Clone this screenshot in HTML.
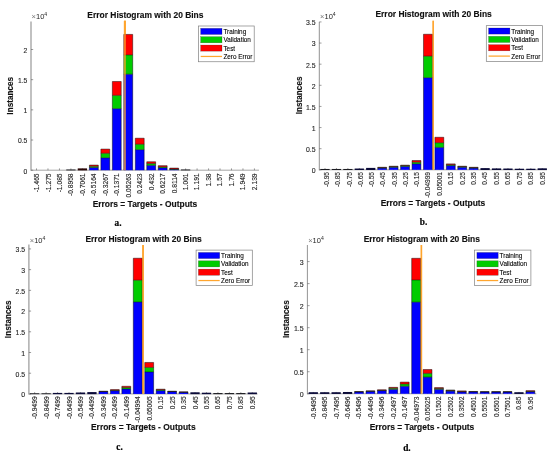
<!DOCTYPE html>
<html lang="en"><head><meta charset="utf-8"><title>Error Histograms</title>
<style>
html,body{margin:0;padding:0;background:#fff;}
body{width:550px;height:455px;overflow:hidden;}
svg{display:block;font-family:"Liberation Sans",Arial,Helvetica,sans-serif;}
</style></head><body>
<svg width="550" height="455" viewBox="0 0 550 455">
<rect width="550" height="455" fill="#fff"/>
<g id="panel-a">
<line x1="124.9" y1="20.7" x2="124.9" y2="170.2" stroke="#ffa52e" stroke-width="2.0"/>
<path d="M31 170.2H259" fill="none" stroke="#a6a6a6" stroke-width="1.0"/>
<path d="M31 21.5V170.7" fill="none" stroke="#a0a0a0" stroke-width="1.3"/>
<path d="M36.5 170.2v-1.8M47.97 170.2v-1.8M59.44 170.2v-1.8M70.91 170.2v-1.8M82.38 170.2v-1.8M93.85 170.2v-1.8M105.32 170.2v-1.8M116.79 170.2v-1.8M128.26 170.2v-1.8M139.73 170.2v-1.8M151.2 170.2v-1.8M162.67 170.2v-1.8M174.14 170.2v-1.8M185.61 170.2v-1.8M197.08 170.2v-1.8M208.55 170.2v-1.8M220.02 170.2v-1.8M231.49 170.2v-1.8M242.96 170.2v-1.8M254.43 170.2v-1.8M31 170.2h2.2M31 140.02h2.2M31 109.85h2.2M31 79.67h2.2M31 49.5h2.2" fill="none" stroke="#5a5a5a" stroke-width="0.6"/>
<rect x="66.27" y="169.48" width="9.29" height="0.92" fill="#1c1c22"/>
<rect x="77.74" y="168.39" width="9.29" height="2.01" fill="#2a0606"/>
<rect x="89.41" y="167.48" width="8.89" height="2.72" fill="#0000ff"/>
<rect x="89.41" y="166.28" width="8.89" height="1.21" fill="#00cc00"/>
<rect x="89.41" y="165.07" width="8.89" height="1.21" fill="#ff0000"/>
<path d="M89.41 170.2V165.07H98.29V170.2M89.41 167.48H98.29M89.41 166.28H98.29" fill="none" stroke="#000" stroke-opacity="0.9" stroke-width="0.5"/>
<rect x="100.88" y="157.83" width="8.89" height="12.37" fill="#0000ff"/>
<rect x="100.88" y="153.3" width="8.89" height="4.53" fill="#00cc00"/>
<rect x="100.88" y="149.08" width="8.89" height="4.22" fill="#ff0000"/>
<path d="M100.88 170.2V149.08H109.76V170.2M100.88 157.83H109.76M100.88 153.3H109.76" fill="none" stroke="#000" stroke-opacity="0.9" stroke-width="0.5"/>
<rect x="112.35" y="108.64" width="8.89" height="61.56" fill="#0000ff"/>
<rect x="112.35" y="95.37" width="8.89" height="13.28" fill="#00cc00"/>
<rect x="112.35" y="81.49" width="8.89" height="13.88" fill="#ff0000"/>
<path d="M112.35 170.2V81.49H121.23V170.2M112.35 108.64H121.23M112.35 95.37H121.23" fill="none" stroke="#000" stroke-opacity="0.9" stroke-width="0.5"/>
<rect x="123.82" y="74.24" width="8.89" height="95.96" fill="#0000ff"/>
<rect x="123.82" y="54.93" width="8.89" height="19.31" fill="#00cc00"/>
<rect x="123.82" y="34.41" width="8.89" height="20.52" fill="#ff0000"/>
<path d="M123.82 170.2V34.41H132.7V170.2M123.82 74.24H132.7M123.82 54.93H132.7" fill="none" stroke="#000" stroke-opacity="0.9" stroke-width="0.5"/>
<rect x="135.29" y="149.68" width="8.89" height="20.52" fill="#0000ff"/>
<rect x="135.29" y="144.25" width="8.89" height="5.43" fill="#00cc00"/>
<rect x="135.29" y="138.21" width="8.89" height="6.03" fill="#ff0000"/>
<path d="M135.29 170.2V138.21H144.17V170.2M135.29 149.68H144.17M135.29 144.25H144.17" fill="none" stroke="#000" stroke-opacity="0.9" stroke-width="0.5"/>
<rect x="146.76" y="165.37" width="8.89" height="4.83" fill="#0000ff"/>
<rect x="146.76" y="163.56" width="8.89" height="1.81" fill="#00cc00"/>
<rect x="146.76" y="161.75" width="8.89" height="1.81" fill="#ff0000"/>
<path d="M146.76 170.2V161.75H155.64V170.2M146.76 165.37H155.64M146.76 163.56H155.64" fill="none" stroke="#000" stroke-opacity="0.9" stroke-width="0.5"/>
<rect x="158.23" y="167.79" width="8.89" height="2.41" fill="#0000ff"/>
<rect x="158.23" y="166.88" width="8.89" height="0.91" fill="#00cc00"/>
<rect x="158.23" y="165.67" width="8.89" height="1.21" fill="#ff0000"/>
<path d="M158.23 170.2V165.67H167.11V170.2M158.23 167.79H167.11M158.23 166.88H167.11" fill="none" stroke="#000" stroke-opacity="0.9" stroke-width="0.5"/>
<rect x="169.7" y="169.36" width="8.89" height="0.84" fill="#0000ff"/>
<rect x="169.7" y="168.99" width="8.89" height="0.36" fill="#00cc00"/>
<rect x="169.7" y="168.09" width="8.89" height="0.91" fill="#ff0000"/>
<path d="M169.7 170.2V168.09H178.58V170.2M169.7 169.36H178.58M169.7 168.99H178.58" fill="none" stroke="#000" stroke-opacity="0.9" stroke-width="0.5"/>
<rect x="180.97" y="169.48" width="9.29" height="0.92" fill="#1c1c22"/>
<line x1="124.9" y1="20.7" x2="124.9" y2="170.2" stroke="#ffa52e" stroke-width="2.0" stroke-opacity="0.72"/>
<text x="27.3" y="173.62" text-anchor="end" font-size="6.75" fill="#262626" stroke="#262626" stroke-width="0.12">0</text>
<text x="27.3" y="143.44" text-anchor="end" font-size="6.75" fill="#262626" stroke="#262626" stroke-width="0.12">0.5</text>
<text x="27.3" y="113.27" text-anchor="end" font-size="6.75" fill="#262626" stroke="#262626" stroke-width="0.12">1</text>
<text x="27.3" y="83.09" text-anchor="end" font-size="6.75" fill="#262626" stroke="#262626" stroke-width="0.12">1.5</text>
<text x="27.3" y="52.92" text-anchor="end" font-size="6.75" fill="#262626" stroke="#262626" stroke-width="0.12">2</text>
<text transform="translate(39.3 173.4) rotate(-90)" text-anchor="end" font-size="6.7" fill="#262626" stroke="#262626" stroke-width="0.12">-1.465</text>
<text transform="translate(50.69 173.4) rotate(-90)" text-anchor="end" font-size="6.7" fill="#262626" stroke="#262626" stroke-width="0.12">-1.275</text>
<text transform="translate(62.08 173.4) rotate(-90)" text-anchor="end" font-size="6.7" fill="#262626" stroke="#262626" stroke-width="0.12">-1.085</text>
<text transform="translate(73.47 173.4) rotate(-90)" text-anchor="end" font-size="6.7" fill="#262626" stroke="#262626" stroke-width="0.12">-0.8958</text>
<text transform="translate(84.86 173.4) rotate(-90)" text-anchor="end" font-size="6.7" fill="#262626" stroke="#262626" stroke-width="0.12">-0.7061</text>
<text transform="translate(96.25 173.4) rotate(-90)" text-anchor="end" font-size="6.7" fill="#262626" stroke="#262626" stroke-width="0.12">-0.5164</text>
<text transform="translate(107.72 173.4) rotate(-90)" text-anchor="end" font-size="6.7" fill="#262626" stroke="#262626" stroke-width="0.12">-0.3267</text>
<text transform="translate(119.19 173.4) rotate(-90)" text-anchor="end" font-size="6.7" fill="#262626" stroke="#262626" stroke-width="0.12">-0.1371</text>
<text transform="translate(130.66 173.4) rotate(-90)" text-anchor="end" font-size="6.7" fill="#262626" stroke="#262626" stroke-width="0.12">0.05263</text>
<text transform="translate(142.13 173.4) rotate(-90)" text-anchor="end" font-size="6.7" fill="#262626" stroke="#262626" stroke-width="0.12">0.2423</text>
<text transform="translate(153.6 173.4) rotate(-90)" text-anchor="end" font-size="6.7" fill="#262626" stroke="#262626" stroke-width="0.12">0.432</text>
<text transform="translate(165.07 173.4) rotate(-90)" text-anchor="end" font-size="6.7" fill="#262626" stroke="#262626" stroke-width="0.12">0.6217</text>
<text transform="translate(176.54 173.4) rotate(-90)" text-anchor="end" font-size="6.7" fill="#262626" stroke="#262626" stroke-width="0.12">0.8114</text>
<text transform="translate(188.01 173.4) rotate(-90)" text-anchor="end" font-size="6.7" fill="#262626" stroke="#262626" stroke-width="0.12">1.001</text>
<text transform="translate(199.48 173.4) rotate(-90)" text-anchor="end" font-size="6.7" fill="#262626" stroke="#262626" stroke-width="0.12">1.191</text>
<text transform="translate(210.95 173.4) rotate(-90)" text-anchor="end" font-size="6.7" fill="#262626" stroke="#262626" stroke-width="0.12">1.38</text>
<text transform="translate(222.42 173.4) rotate(-90)" text-anchor="end" font-size="6.7" fill="#262626" stroke="#262626" stroke-width="0.12">1.57</text>
<text transform="translate(233.89 173.4) rotate(-90)" text-anchor="end" font-size="6.7" fill="#262626" stroke="#262626" stroke-width="0.12">1.76</text>
<text transform="translate(245.36 173.4) rotate(-90)" text-anchor="end" font-size="6.7" fill="#262626" stroke="#262626" stroke-width="0.12">1.949</text>
<text transform="translate(256.83 173.4) rotate(-90)" text-anchor="end" font-size="6.7" fill="#262626" stroke="#262626" stroke-width="0.12">2.139</text>
<text x="31.6" y="18.8" font-size="7.5" fill="#262626"><tspan fill="#777">×</tspan>10<tspan dy="-2.9" font-size="5.1">4</tspan></text>
<text x="145.4" y="17.8" text-anchor="middle" font-size="8.43" font-weight="bold" fill="#111" stroke="#111" stroke-width="0.14">Error Histogram with 20 Bins</text>
<text x="145" y="206.5" text-anchor="middle" font-size="8.45" font-weight="bold" fill="#111" stroke="#111" stroke-width="0.14">Errors = Targets - Outputs</text>
<text transform="translate(13.2 95.75) rotate(-90)" text-anchor="middle" font-size="8.2" font-weight="bold" fill="#111" stroke="#111" stroke-width="0.14">Instances</text>
<rect x="198.4" y="26" width="55.8" height="35.75" fill="#fff" stroke="#808080" stroke-width="0.7"/>
<rect x="200.7" y="28.35" width="21.3" height="6.1" fill="#0000ff" stroke="#000" stroke-opacity="0.4" stroke-width="0.5"/>
<text transform="translate(223.4 33.85) scale(0.94 1)" font-size="6.8" fill="#000" stroke="#000" stroke-width="0.1">Training</text>
<rect x="200.7" y="36.7" width="21.3" height="6.1" fill="#00cc00" stroke="#000" stroke-opacity="0.4" stroke-width="0.5"/>
<text transform="translate(223.4 42.2) scale(0.94 1)" font-size="6.8" fill="#000" stroke="#000" stroke-width="0.1">Validation</text>
<rect x="200.7" y="45.05" width="21.3" height="6.1" fill="#ff0000" stroke="#000" stroke-opacity="0.4" stroke-width="0.5"/>
<text transform="translate(223.4 50.55) scale(0.94 1)" font-size="6.8" fill="#000" stroke="#000" stroke-width="0.1">Test</text>
<line x1="200.7" y1="56.45" x2="222" y2="56.45" stroke="#ffa52e" stroke-width="1.25"/>
<text transform="translate(223.4 58.9) scale(0.94 1)" font-size="6.8" fill="#000" stroke="#000" stroke-width="0.1">Zero Error</text>
<text x="118" y="225.5" text-anchor="middle" font-family="'Liberation Serif', serif" font-size="9.3" font-weight="bold" fill="#000" stroke="#000" stroke-width="0.18">a.</text>
</g>
<g id="panel-b">
<line x1="433.2" y1="20.7" x2="433.2" y2="169.8" stroke="#ffa52e" stroke-width="1.45"/>
<path d="M319.3 169.8H547" fill="none" stroke="#a6a6a6" stroke-width="1.0"/>
<path d="M319.3 21.9V170.3" fill="none" stroke="#7c7c7c" stroke-width="0.85"/>
<path d="M325 169.8v-1.8M336.44 169.8v-1.8M347.87 169.8v-1.8M359.31 169.8v-1.8M370.74 169.8v-1.8M382.18 169.8v-1.8M393.61 169.8v-1.8M405.05 169.8v-1.8M416.48 169.8v-1.8M427.92 169.8v-1.8M439.35 169.8v-1.8M450.79 169.8v-1.8M462.22 169.8v-1.8M473.65 169.8v-1.8M485.09 169.8v-1.8M496.52 169.8v-1.8M507.96 169.8v-1.8M519.39 169.8v-1.8M530.83 169.8v-1.8M542.26 169.8v-1.8M319.3 169.8h2.2M319.3 148.68h2.2M319.3 127.55h2.2M319.3 106.43h2.2M319.3 85.3h2.2M319.3 64.18h2.2M319.3 43.05h2.2M319.3 21.93h2.2" fill="none" stroke="#5a5a5a" stroke-width="0.6"/>
<rect x="320.37" y="168.96" width="9.26" height="1.04" fill="#1c1c22"/>
<rect x="331.8" y="168.96" width="9.26" height="1.04" fill="#1c1c22"/>
<rect x="343.24" y="168.96" width="9.26" height="1.04" fill="#1c1c22"/>
<rect x="354.67" y="168.53" width="9.26" height="1.47" fill="#0a0a38"/>
<rect x="366.11" y="167.9" width="9.26" height="2.1" fill="#0a0a38"/>
<rect x="377.74" y="168.11" width="8.86" height="1.69" fill="#0000ff"/>
<rect x="377.74" y="167.69" width="8.86" height="0.42" fill="#00cc00"/>
<rect x="377.74" y="167.27" width="8.86" height="0.42" fill="#ff0000"/>
<path d="M377.74 169.8V167.27H386.61V169.8M377.74 168.11H386.61M377.74 167.69H386.61" fill="none" stroke="#000" stroke-opacity="0.9" stroke-width="0.5"/>
<rect x="389.18" y="167.27" width="8.86" height="2.53" fill="#0000ff"/>
<rect x="389.18" y="166.63" width="8.86" height="0.63" fill="#00cc00"/>
<rect x="389.18" y="166.21" width="8.86" height="0.42" fill="#ff0000"/>
<path d="M389.18 169.8V166.21H398.04V169.8M389.18 167.27H398.04M389.18 166.63H398.04" fill="none" stroke="#000" stroke-opacity="0.9" stroke-width="0.5"/>
<rect x="400.61" y="166.42" width="8.86" height="3.38" fill="#0000ff"/>
<rect x="400.61" y="165.58" width="8.86" height="0.84" fill="#00cc00"/>
<rect x="400.61" y="165.15" width="8.86" height="0.42" fill="#ff0000"/>
<path d="M400.61 169.8V165.15H409.48V169.8M400.61 166.42H409.48M400.61 165.58H409.48" fill="none" stroke="#000" stroke-opacity="0.9" stroke-width="0.5"/>
<rect x="412.05" y="163.89" width="8.86" height="5.91" fill="#0000ff"/>
<rect x="412.05" y="162.2" width="8.86" height="1.69" fill="#00cc00"/>
<rect x="412.05" y="160.51" width="8.86" height="1.69" fill="#ff0000"/>
<path d="M412.05 169.8V160.51H420.91V169.8M412.05 163.89H420.91M412.05 162.2H420.91" fill="none" stroke="#000" stroke-opacity="0.9" stroke-width="0.5"/>
<rect x="423.48" y="77.7" width="8.86" height="92.11" fill="#0000ff"/>
<rect x="423.48" y="56.15" width="8.86" height="21.55" fill="#00cc00"/>
<rect x="423.48" y="34.26" width="8.86" height="21.89" fill="#ff0000"/>
<path d="M423.48 169.8V34.26H432.35V169.8M423.48 77.7H432.35M423.48 56.15H432.35" fill="none" stroke="#000" stroke-opacity="0.9" stroke-width="0.5"/>
<rect x="434.92" y="147.41" width="8.86" height="22.39" fill="#0000ff"/>
<rect x="434.92" y="142.76" width="8.86" height="4.65" fill="#00cc00"/>
<rect x="434.92" y="137.27" width="8.86" height="5.49" fill="#ff0000"/>
<path d="M434.92 169.8V137.27H443.78V169.8M434.92 147.41H443.78M434.92 142.76H443.78" fill="none" stroke="#000" stroke-opacity="0.9" stroke-width="0.5"/>
<rect x="446.35" y="165.58" width="8.86" height="4.22" fill="#0000ff"/>
<rect x="446.35" y="164.73" width="8.86" height="0.84" fill="#00cc00"/>
<rect x="446.35" y="163.89" width="8.86" height="0.84" fill="#ff0000"/>
<path d="M446.35 169.8V163.89H455.22V169.8M446.35 165.58H455.22M446.35 164.73H455.22" fill="none" stroke="#000" stroke-opacity="0.9" stroke-width="0.5"/>
<rect x="457.79" y="167.27" width="8.86" height="2.53" fill="#0000ff"/>
<rect x="457.79" y="166.63" width="8.86" height="0.63" fill="#00cc00"/>
<rect x="457.79" y="166.21" width="8.86" height="0.42" fill="#ff0000"/>
<path d="M457.79 169.8V166.21H466.65V169.8M457.79 167.27H466.65M457.79 166.63H466.65" fill="none" stroke="#000" stroke-opacity="0.9" stroke-width="0.5"/>
<rect x="469.22" y="168.11" width="8.86" height="1.69" fill="#0000ff"/>
<rect x="469.22" y="167.69" width="8.86" height="0.42" fill="#00cc00"/>
<rect x="469.22" y="167.27" width="8.86" height="0.42" fill="#ff0000"/>
<path d="M469.22 169.8V167.27H478.09V169.8M469.22 168.11H478.09M469.22 167.69H478.09" fill="none" stroke="#000" stroke-opacity="0.9" stroke-width="0.5"/>
<rect x="480.46" y="168.11" width="9.26" height="1.89" fill="#0a0a38"/>
<rect x="491.89" y="168.41" width="9.26" height="1.59" fill="#0a0a38"/>
<rect x="503.33" y="168.53" width="9.26" height="1.47" fill="#0a0a38"/>
<rect x="514.76" y="168.74" width="9.26" height="1.26" fill="#0a0a38"/>
<rect x="526.2" y="168.74" width="9.26" height="1.26" fill="#0a0a38"/>
<rect x="537.63" y="168.32" width="9.26" height="1.68" fill="#0a0a38"/>
<line x1="433.2" y1="20.7" x2="433.2" y2="169.8" stroke="#ffa52e" stroke-width="1.45" stroke-opacity="0.72"/>
<text x="315.6" y="173.17" text-anchor="end" font-size="6.9" fill="#262626" stroke="#262626" stroke-width="0.12">0</text>
<text x="315.6" y="152.05" text-anchor="end" font-size="6.9" fill="#262626" stroke="#262626" stroke-width="0.12">0.5</text>
<text x="315.6" y="130.92" text-anchor="end" font-size="6.9" fill="#262626" stroke="#262626" stroke-width="0.12">1</text>
<text x="315.6" y="109.8" text-anchor="end" font-size="6.9" fill="#262626" stroke="#262626" stroke-width="0.12">1.5</text>
<text x="315.6" y="88.67" text-anchor="end" font-size="6.9" fill="#262626" stroke="#262626" stroke-width="0.12">2</text>
<text x="315.6" y="67.55" text-anchor="end" font-size="6.9" fill="#262626" stroke="#262626" stroke-width="0.12">2.5</text>
<text x="315.6" y="46.42" text-anchor="end" font-size="6.9" fill="#262626" stroke="#262626" stroke-width="0.12">3</text>
<text x="315.6" y="25.3" text-anchor="end" font-size="6.9" fill="#262626" stroke="#262626" stroke-width="0.12">3.5</text>
<text transform="translate(329.24 172) rotate(-90)" text-anchor="end" font-size="6.55" fill="#262626" stroke="#262626" stroke-width="0.12">-0.95</text>
<text transform="translate(340.47 172) rotate(-90)" text-anchor="end" font-size="6.55" fill="#262626" stroke="#262626" stroke-width="0.12">-0.85</text>
<text transform="translate(351.69 172) rotate(-90)" text-anchor="end" font-size="6.55" fill="#262626" stroke="#262626" stroke-width="0.12">-0.75</text>
<text transform="translate(362.92 172) rotate(-90)" text-anchor="end" font-size="6.55" fill="#262626" stroke="#262626" stroke-width="0.12">-0.65</text>
<text transform="translate(374.14 172) rotate(-90)" text-anchor="end" font-size="6.55" fill="#262626" stroke="#262626" stroke-width="0.12">-0.55</text>
<text transform="translate(385.36 172) rotate(-90)" text-anchor="end" font-size="6.55" fill="#262626" stroke="#262626" stroke-width="0.12">-0.45</text>
<text transform="translate(396.59 172) rotate(-90)" text-anchor="end" font-size="6.55" fill="#262626" stroke="#262626" stroke-width="0.12">-0.35</text>
<text transform="translate(407.81 172) rotate(-90)" text-anchor="end" font-size="6.55" fill="#262626" stroke="#262626" stroke-width="0.12">-0.25</text>
<text transform="translate(419.04 172) rotate(-90)" text-anchor="end" font-size="6.55" fill="#262626" stroke="#262626" stroke-width="0.12">-0.15</text>
<text transform="translate(430.26 172) rotate(-90)" text-anchor="end" font-size="6.55" fill="#262626" stroke="#262626" stroke-width="0.12">-0.04999</text>
<text transform="translate(441.69 172) rotate(-90)" text-anchor="end" font-size="6.55" fill="#262626" stroke="#262626" stroke-width="0.12">0.05001</text>
<text transform="translate(453.13 172) rotate(-90)" text-anchor="end" font-size="6.55" fill="#262626" stroke="#262626" stroke-width="0.12">0.15</text>
<text transform="translate(464.56 172) rotate(-90)" text-anchor="end" font-size="6.55" fill="#262626" stroke="#262626" stroke-width="0.12">0.25</text>
<text transform="translate(476 172) rotate(-90)" text-anchor="end" font-size="6.55" fill="#262626" stroke="#262626" stroke-width="0.12">0.35</text>
<text transform="translate(487.43 172) rotate(-90)" text-anchor="end" font-size="6.55" fill="#262626" stroke="#262626" stroke-width="0.12">0.45</text>
<text transform="translate(498.87 172) rotate(-90)" text-anchor="end" font-size="6.55" fill="#262626" stroke="#262626" stroke-width="0.12">0.55</text>
<text transform="translate(510.3 172) rotate(-90)" text-anchor="end" font-size="6.55" fill="#262626" stroke="#262626" stroke-width="0.12">0.65</text>
<text transform="translate(521.74 172) rotate(-90)" text-anchor="end" font-size="6.55" fill="#262626" stroke="#262626" stroke-width="0.12">0.75</text>
<text transform="translate(533.17 172) rotate(-90)" text-anchor="end" font-size="6.55" fill="#262626" stroke="#262626" stroke-width="0.12">0.85</text>
<text transform="translate(544.61 172) rotate(-90)" text-anchor="end" font-size="6.55" fill="#262626" stroke="#262626" stroke-width="0.12">0.95</text>
<text x="320.1" y="18.5" font-size="7.5" fill="#262626"><tspan fill="#777">×</tspan>10<tspan dy="-2.9" font-size="5.1">4</tspan></text>
<text x="433.6" y="17.3" text-anchor="middle" font-size="8.45" font-weight="bold" fill="#111" stroke="#111" stroke-width="0.14">Error Histogram with 20 Bins</text>
<text x="433" y="206.1" text-anchor="middle" font-size="8.45" font-weight="bold" fill="#111" stroke="#111" stroke-width="0.14">Errors = Targets - Outputs</text>
<text transform="translate(301.7 95.35) rotate(-90)" text-anchor="middle" font-size="8.2" font-weight="bold" fill="#111" stroke="#111" stroke-width="0.14">Instances</text>
<rect x="486.3" y="25.65" width="56.3" height="35.7" fill="#fff" stroke="#808080" stroke-width="0.7"/>
<rect x="488.6" y="28" width="21.3" height="6.1" fill="#0000ff" stroke="#000" stroke-opacity="0.4" stroke-width="0.5"/>
<text transform="translate(511.3 33.5) scale(0.94 1)" font-size="6.8" fill="#000" stroke="#000" stroke-width="0.1">Training</text>
<rect x="488.6" y="36.35" width="21.3" height="6.1" fill="#00cc00" stroke="#000" stroke-opacity="0.4" stroke-width="0.5"/>
<text transform="translate(511.3 41.85) scale(0.94 1)" font-size="6.8" fill="#000" stroke="#000" stroke-width="0.1">Validation</text>
<rect x="488.6" y="44.7" width="21.3" height="6.1" fill="#ff0000" stroke="#000" stroke-opacity="0.4" stroke-width="0.5"/>
<text transform="translate(511.3 50.2) scale(0.94 1)" font-size="6.8" fill="#000" stroke="#000" stroke-width="0.1">Test</text>
<line x1="488.6" y1="56.1" x2="509.9" y2="56.1" stroke="#ffa52e" stroke-width="1.25"/>
<text transform="translate(511.3 58.55) scale(0.94 1)" font-size="6.8" fill="#000" stroke="#000" stroke-width="0.1">Zero Error</text>
<text x="423.5" y="224.5" text-anchor="middle" font-family="'Liberation Serif', serif" font-size="9.3" font-weight="bold" fill="#000" stroke="#000" stroke-width="0.18">b.</text>
</g>
<g id="panel-c">
<line x1="143.05" y1="245" x2="143.05" y2="393.95" stroke="#ffa52e" stroke-width="1.65"/>
<path d="M28.9 393.95H257.6" fill="none" stroke="#a6a6a6" stroke-width="1.0"/>
<path d="M28.9 244.5V394.45" fill="none" stroke="#999999" stroke-width="1.2"/>
<path d="M34.65 393.95v-1.8M46.1 393.95v-1.8M57.56 393.95v-1.8M69.02 393.95v-1.8M80.47 393.95v-1.8M91.92 393.95v-1.8M103.38 393.95v-1.8M114.84 393.95v-1.8M126.29 393.95v-1.8M137.75 393.95v-1.8M149.2 393.95v-1.8M160.66 393.95v-1.8M172.11 393.95v-1.8M183.56 393.95v-1.8M195.02 393.95v-1.8M206.47 393.95v-1.8M217.93 393.95v-1.8M229.39 393.95v-1.8M240.84 393.95v-1.8M252.3 393.95v-1.8M28.9 393.95h2.2M28.9 373.23h2.2M28.9 352.51h2.2M28.9 331.79h2.2M28.9 311.07h2.2M28.9 290.35h2.2M28.9 269.63h2.2M28.9 248.91h2.2" fill="none" stroke="#5a5a5a" stroke-width="0.6"/>
<rect x="30.01" y="393.29" width="9.28" height="0.86" fill="#1c1c22"/>
<rect x="41.47" y="393.29" width="9.28" height="0.86" fill="#1c1c22"/>
<rect x="52.92" y="392.91" width="9.28" height="1.24" fill="#0a0a38"/>
<rect x="64.38" y="392.91" width="9.28" height="1.24" fill="#0a0a38"/>
<rect x="75.83" y="392.5" width="9.28" height="1.65" fill="#0a0a38"/>
<rect x="87.29" y="392.09" width="9.28" height="2.06" fill="#0a0a38"/>
<rect x="98.94" y="391.67" width="8.88" height="2.28" fill="#0000ff"/>
<rect x="98.94" y="391.46" width="8.88" height="0.21" fill="#00cc00"/>
<rect x="98.94" y="391.21" width="8.88" height="0.25" fill="#ff0000"/>
<path d="M98.94 393.95V391.21H107.82V393.95M98.94 391.67H107.82M98.94 391.46H107.82" fill="none" stroke="#000" stroke-opacity="0.9" stroke-width="0.5"/>
<rect x="110.4" y="390.72" width="8.88" height="3.23" fill="#0000ff"/>
<rect x="110.4" y="390.3" width="8.88" height="0.41" fill="#00cc00"/>
<rect x="110.4" y="389.6" width="8.88" height="0.7" fill="#ff0000"/>
<path d="M110.4 393.95V389.6H119.27V393.95M110.4 390.72H119.27M110.4 390.3H119.27" fill="none" stroke="#000" stroke-opacity="0.9" stroke-width="0.5"/>
<rect x="121.85" y="388.98" width="8.88" height="4.97" fill="#0000ff"/>
<rect x="121.85" y="387.53" width="8.88" height="1.45" fill="#00cc00"/>
<rect x="121.85" y="386.28" width="8.88" height="1.24" fill="#ff0000"/>
<path d="M121.85 393.95V386.28H130.73V393.95M121.85 388.98H130.73M121.85 387.53H130.73" fill="none" stroke="#000" stroke-opacity="0.9" stroke-width="0.5"/>
<rect x="133.31" y="302.04" width="8.88" height="91.91" fill="#0000ff"/>
<rect x="133.31" y="280.2" width="8.88" height="21.84" fill="#00cc00"/>
<rect x="133.31" y="258.23" width="8.88" height="21.96" fill="#ff0000"/>
<path d="M133.31 393.95V258.23H142.18V393.95M133.31 302.04H142.18M133.31 280.2H142.18" fill="none" stroke="#000" stroke-opacity="0.9" stroke-width="0.5"/>
<rect x="144.76" y="371.99" width="8.88" height="21.96" fill="#0000ff"/>
<rect x="144.76" y="367.43" width="8.88" height="4.56" fill="#00cc00"/>
<rect x="144.76" y="362.46" width="8.88" height="4.97" fill="#ff0000"/>
<path d="M144.76 393.95V362.46H153.64V393.95M144.76 371.99H153.64M144.76 367.43H153.64" fill="none" stroke="#000" stroke-opacity="0.9" stroke-width="0.5"/>
<rect x="156.22" y="390.63" width="8.88" height="3.32" fill="#0000ff"/>
<rect x="156.22" y="389.81" width="8.88" height="0.83" fill="#00cc00"/>
<rect x="156.22" y="389.18" width="8.88" height="0.62" fill="#ff0000"/>
<path d="M156.22 393.95V389.18H165.09V393.95M156.22 390.63H165.09M156.22 389.81H165.09" fill="none" stroke="#000" stroke-opacity="0.9" stroke-width="0.5"/>
<rect x="167.67" y="391.67" width="8.88" height="2.28" fill="#0000ff"/>
<rect x="167.67" y="391.46" width="8.88" height="0.21" fill="#00cc00"/>
<rect x="167.67" y="391.21" width="8.88" height="0.25" fill="#ff0000"/>
<path d="M167.67 393.95V391.21H176.55V393.95M167.67 391.67H176.55M167.67 391.46H176.55" fill="none" stroke="#000" stroke-opacity="0.9" stroke-width="0.5"/>
<rect x="179.13" y="392.29" width="8.88" height="1.66" fill="#0000ff"/>
<rect x="179.13" y="392.13" width="8.88" height="0.17" fill="#00cc00"/>
<rect x="179.13" y="391.88" width="8.88" height="0.25" fill="#ff0000"/>
<path d="M179.13 393.95V391.88H188V393.95M179.13 392.29H188M179.13 392.13H188" fill="none" stroke="#000" stroke-opacity="0.9" stroke-width="0.5"/>
<rect x="190.38" y="392.29" width="9.28" height="1.86" fill="#0a0a38"/>
<rect x="201.84" y="392.71" width="9.28" height="1.44" fill="#0a0a38"/>
<rect x="213.29" y="393.04" width="9.28" height="1.11" fill="#1c1c22"/>
<rect x="224.75" y="393.04" width="9.28" height="1.11" fill="#1c1c22"/>
<rect x="236.2" y="393.04" width="9.28" height="1.11" fill="#1c1c22"/>
<rect x="247.66" y="392.5" width="9.28" height="1.65" fill="#0a0a38"/>
<line x1="143.05" y1="245" x2="143.05" y2="393.95" stroke="#ffa52e" stroke-width="1.65" stroke-opacity="0.72"/>
<text x="25.2" y="397.32" text-anchor="end" font-size="6.9" fill="#262626" stroke="#262626" stroke-width="0.12">0</text>
<text x="25.2" y="376.6" text-anchor="end" font-size="6.9" fill="#262626" stroke="#262626" stroke-width="0.12">0.5</text>
<text x="25.2" y="355.88" text-anchor="end" font-size="6.9" fill="#262626" stroke="#262626" stroke-width="0.12">1</text>
<text x="25.2" y="335.16" text-anchor="end" font-size="6.9" fill="#262626" stroke="#262626" stroke-width="0.12">1.5</text>
<text x="25.2" y="314.44" text-anchor="end" font-size="6.9" fill="#262626" stroke="#262626" stroke-width="0.12">2</text>
<text x="25.2" y="293.72" text-anchor="end" font-size="6.9" fill="#262626" stroke="#262626" stroke-width="0.12">2.5</text>
<text x="25.2" y="273" text-anchor="end" font-size="6.9" fill="#262626" stroke="#262626" stroke-width="0.12">3</text>
<text x="25.2" y="252.28" text-anchor="end" font-size="6.9" fill="#262626" stroke="#262626" stroke-width="0.12">3.5</text>
<text transform="translate(37.15 396.25) rotate(-90)" text-anchor="end" font-size="6.7" fill="#262626" stroke="#262626" stroke-width="0.12">-0.9499</text>
<text transform="translate(48.6 396.25) rotate(-90)" text-anchor="end" font-size="6.7" fill="#262626" stroke="#262626" stroke-width="0.12">-0.8499</text>
<text transform="translate(60.06 396.25) rotate(-90)" text-anchor="end" font-size="6.7" fill="#262626" stroke="#262626" stroke-width="0.12">-0.7499</text>
<text transform="translate(71.51 396.25) rotate(-90)" text-anchor="end" font-size="6.7" fill="#262626" stroke="#262626" stroke-width="0.12">-0.6499</text>
<text transform="translate(82.97 396.25) rotate(-90)" text-anchor="end" font-size="6.7" fill="#262626" stroke="#262626" stroke-width="0.12">-0.5499</text>
<text transform="translate(94.42 396.25) rotate(-90)" text-anchor="end" font-size="6.7" fill="#262626" stroke="#262626" stroke-width="0.12">-0.4499</text>
<text transform="translate(105.88 396.25) rotate(-90)" text-anchor="end" font-size="6.7" fill="#262626" stroke="#262626" stroke-width="0.12">-0.3499</text>
<text transform="translate(117.33 396.25) rotate(-90)" text-anchor="end" font-size="6.7" fill="#262626" stroke="#262626" stroke-width="0.12">-0.2499</text>
<text transform="translate(128.79 396.25) rotate(-90)" text-anchor="end" font-size="6.7" fill="#262626" stroke="#262626" stroke-width="0.12">-0.1499</text>
<text transform="translate(140.24 396.25) rotate(-90)" text-anchor="end" font-size="6.7" fill="#262626" stroke="#262626" stroke-width="0.12">-0.04994</text>
<text transform="translate(151.7 396.25) rotate(-90)" text-anchor="end" font-size="6.7" fill="#262626" stroke="#262626" stroke-width="0.12">0.05005</text>
<text transform="translate(163.15 396.25) rotate(-90)" text-anchor="end" font-size="6.7" fill="#262626" stroke="#262626" stroke-width="0.12">0.15</text>
<text transform="translate(174.61 396.25) rotate(-90)" text-anchor="end" font-size="6.7" fill="#262626" stroke="#262626" stroke-width="0.12">0.25</text>
<text transform="translate(186.06 396.25) rotate(-90)" text-anchor="end" font-size="6.7" fill="#262626" stroke="#262626" stroke-width="0.12">0.35</text>
<text transform="translate(197.52 396.25) rotate(-90)" text-anchor="end" font-size="6.7" fill="#262626" stroke="#262626" stroke-width="0.12">0.45</text>
<text transform="translate(208.97 396.25) rotate(-90)" text-anchor="end" font-size="6.7" fill="#262626" stroke="#262626" stroke-width="0.12">0.55</text>
<text transform="translate(220.43 396.25) rotate(-90)" text-anchor="end" font-size="6.7" fill="#262626" stroke="#262626" stroke-width="0.12">0.65</text>
<text transform="translate(231.88 396.25) rotate(-90)" text-anchor="end" font-size="6.7" fill="#262626" stroke="#262626" stroke-width="0.12">0.75</text>
<text transform="translate(243.34 396.25) rotate(-90)" text-anchor="end" font-size="6.7" fill="#262626" stroke="#262626" stroke-width="0.12">0.85</text>
<text transform="translate(254.79 396.25) rotate(-90)" text-anchor="end" font-size="6.7" fill="#262626" stroke="#262626" stroke-width="0.12">0.95</text>
<text x="29.8" y="242.5" font-size="7.5" fill="#262626"><tspan fill="#777">×</tspan>10<tspan dy="-2.9" font-size="5.1">4</tspan></text>
<text x="143.6" y="241.9" text-anchor="middle" font-size="8.45" font-weight="bold" fill="#111" stroke="#111" stroke-width="0.14">Error Histogram with 20 Bins</text>
<text x="143.3" y="430.2" text-anchor="middle" font-size="8.45" font-weight="bold" fill="#111" stroke="#111" stroke-width="0.14">Errors = Targets - Outputs</text>
<text transform="translate(11.3 319.25) rotate(-90)" text-anchor="middle" font-size="8.2" font-weight="bold" fill="#111" stroke="#111" stroke-width="0.14">Instances</text>
<rect x="196.1" y="250.1" width="56.2" height="35.4" fill="#fff" stroke="#808080" stroke-width="0.7"/>
<rect x="198.4" y="252.45" width="21.3" height="6.1" fill="#0000ff" stroke="#000" stroke-opacity="0.4" stroke-width="0.5"/>
<text transform="translate(221.1 257.95) scale(0.94 1)" font-size="6.8" fill="#000" stroke="#000" stroke-width="0.1">Training</text>
<rect x="198.4" y="260.8" width="21.3" height="6.1" fill="#00cc00" stroke="#000" stroke-opacity="0.4" stroke-width="0.5"/>
<text transform="translate(221.1 266.3) scale(0.94 1)" font-size="6.8" fill="#000" stroke="#000" stroke-width="0.1">Validation</text>
<rect x="198.4" y="269.15" width="21.3" height="6.1" fill="#ff0000" stroke="#000" stroke-opacity="0.4" stroke-width="0.5"/>
<text transform="translate(221.1 274.65) scale(0.94 1)" font-size="6.8" fill="#000" stroke="#000" stroke-width="0.1">Test</text>
<line x1="198.4" y1="280.55" x2="219.7" y2="280.55" stroke="#ffa52e" stroke-width="1.25"/>
<text transform="translate(221.1 283) scale(0.94 1)" font-size="6.8" fill="#000" stroke="#000" stroke-width="0.1">Zero Error</text>
<text x="119.5" y="450.4" text-anchor="middle" font-family="'Liberation Serif', serif" font-size="9.3" font-weight="bold" fill="#000" stroke="#000" stroke-width="0.18">c.</text>
</g>
<g id="panel-d">
<line x1="421.4" y1="245" x2="421.4" y2="393.75" stroke="#ffa52e" stroke-width="1.45"/>
<path d="M307.4 393.75H536.3" fill="none" stroke="#a6a6a6" stroke-width="1.0"/>
<path d="M307.4 245V394.25" fill="none" stroke="#7a7a7a" stroke-width="0.8"/>
<path d="M313.3 393.75v-1.8M324.73 393.75v-1.8M336.15 393.75v-1.8M347.58 393.75v-1.8M359 393.75v-1.8M370.43 393.75v-1.8M381.85 393.75v-1.8M393.28 393.75v-1.8M404.7 393.75v-1.8M416.12 393.75v-1.8M427.55 393.75v-1.8M438.98 393.75v-1.8M450.4 393.75v-1.8M461.83 393.75v-1.8M473.25 393.75v-1.8M484.68 393.75v-1.8M496.1 393.75v-1.8M507.53 393.75v-1.8M518.95 393.75v-1.8M530.38 393.75v-1.8M307.4 393.75h2.2M307.4 371.73h2.2M307.4 349.7h2.2M307.4 327.68h2.2M307.4 305.65h2.2M307.4 283.62h2.2M307.4 261.6h2.2" fill="none" stroke="#5a5a5a" stroke-width="0.6"/>
<rect x="308.67" y="392.21" width="9.25" height="1.74" fill="#0a0a38"/>
<rect x="320.1" y="392.21" width="9.25" height="1.74" fill="#0a0a38"/>
<rect x="331.52" y="392.21" width="9.25" height="1.74" fill="#0a0a38"/>
<rect x="342.95" y="391.99" width="9.25" height="1.96" fill="#0a0a38"/>
<rect x="354.57" y="391.99" width="8.85" height="1.76" fill="#0000ff"/>
<rect x="354.57" y="391.77" width="8.85" height="0.22" fill="#00cc00"/>
<rect x="354.57" y="391.55" width="8.85" height="0.22" fill="#ff0000"/>
<path d="M354.57 393.75V391.55H363.43V393.75M354.57 391.99H363.43M354.57 391.77H363.43" fill="none" stroke="#000" stroke-opacity="0.9" stroke-width="0.5"/>
<rect x="366" y="391.33" width="8.85" height="2.42" fill="#0000ff"/>
<rect x="366" y="391.11" width="8.85" height="0.22" fill="#00cc00"/>
<rect x="366" y="390.89" width="8.85" height="0.22" fill="#ff0000"/>
<path d="M366 393.75V390.89H374.85V393.75M366 391.33H374.85M366 391.11H374.85" fill="none" stroke="#000" stroke-opacity="0.9" stroke-width="0.5"/>
<rect x="377.42" y="390.67" width="8.85" height="3.08" fill="#0000ff"/>
<rect x="377.42" y="390.31" width="8.85" height="0.35" fill="#00cc00"/>
<rect x="377.42" y="389.79" width="8.85" height="0.53" fill="#ff0000"/>
<path d="M377.42 393.75V389.79H386.28V393.75M377.42 390.67H386.28M377.42 390.31H386.28" fill="none" stroke="#000" stroke-opacity="0.9" stroke-width="0.5"/>
<rect x="388.85" y="389.35" width="8.85" height="4.4" fill="#0000ff"/>
<rect x="388.85" y="388.24" width="8.85" height="1.1" fill="#00cc00"/>
<rect x="388.85" y="387.36" width="8.85" height="0.88" fill="#ff0000"/>
<path d="M388.85 393.75V387.36H397.7V393.75M388.85 389.35H397.7M388.85 388.24H397.7" fill="none" stroke="#000" stroke-opacity="0.9" stroke-width="0.5"/>
<rect x="400.27" y="386.26" width="8.85" height="7.49" fill="#0000ff"/>
<rect x="400.27" y="384.06" width="8.85" height="2.2" fill="#00cc00"/>
<rect x="400.27" y="382.08" width="8.85" height="1.98" fill="#ff0000"/>
<path d="M400.27 393.75V382.08H409.13V393.75M400.27 386.26H409.13M400.27 384.06H409.13" fill="none" stroke="#000" stroke-opacity="0.9" stroke-width="0.5"/>
<rect x="411.7" y="302.13" width="8.85" height="91.62" fill="#0000ff"/>
<rect x="411.7" y="279.97" width="8.85" height="22.16" fill="#00cc00"/>
<rect x="411.7" y="258.3" width="8.85" height="21.67" fill="#ff0000"/>
<path d="M411.7 393.75V258.3H420.55V393.75M411.7 302.13H420.55M411.7 279.97H420.55" fill="none" stroke="#000" stroke-opacity="0.9" stroke-width="0.5"/>
<rect x="423.12" y="377.1" width="8.85" height="16.65" fill="#0000ff"/>
<rect x="423.12" y="373.4" width="8.85" height="3.7" fill="#00cc00"/>
<rect x="423.12" y="369.52" width="8.85" height="3.88" fill="#ff0000"/>
<path d="M423.12 393.75V369.52H431.98V393.75M423.12 377.1H431.98M423.12 373.4H431.98" fill="none" stroke="#000" stroke-opacity="0.9" stroke-width="0.5"/>
<rect x="434.55" y="389.35" width="8.85" height="4.4" fill="#0000ff"/>
<rect x="434.55" y="388.46" width="8.85" height="0.88" fill="#00cc00"/>
<rect x="434.55" y="387.58" width="8.85" height="0.88" fill="#ff0000"/>
<path d="M434.55 393.75V387.58H443.4V393.75M434.55 389.35H443.4M434.55 388.46H443.4" fill="none" stroke="#000" stroke-opacity="0.9" stroke-width="0.5"/>
<rect x="445.97" y="391.11" width="8.85" height="2.64" fill="#0000ff"/>
<rect x="445.97" y="390.45" width="8.85" height="0.66" fill="#00cc00"/>
<rect x="445.97" y="390.01" width="8.85" height="0.44" fill="#ff0000"/>
<path d="M445.97 393.75V390.01H454.83V393.75M445.97 391.11H454.83M445.97 390.45H454.83" fill="none" stroke="#000" stroke-opacity="0.9" stroke-width="0.5"/>
<rect x="457.4" y="391.99" width="8.85" height="1.76" fill="#0000ff"/>
<rect x="457.4" y="391.55" width="8.85" height="0.44" fill="#00cc00"/>
<rect x="457.4" y="390.89" width="8.85" height="0.66" fill="#ff0000"/>
<path d="M457.4 393.75V390.89H466.25V393.75M457.4 391.99H466.25M457.4 391.55H466.25" fill="none" stroke="#000" stroke-opacity="0.9" stroke-width="0.5"/>
<rect x="468.82" y="391.9" width="8.85" height="1.85" fill="#0000ff"/>
<rect x="468.82" y="391.68" width="8.85" height="0.22" fill="#00cc00"/>
<rect x="468.82" y="391.46" width="8.85" height="0.22" fill="#ff0000"/>
<path d="M468.82 393.75V391.46H477.68V393.75M468.82 391.9H477.68M468.82 391.68H477.68" fill="none" stroke="#000" stroke-opacity="0.9" stroke-width="0.5"/>
<rect x="480.25" y="391.99" width="8.85" height="1.76" fill="#0000ff"/>
<rect x="480.25" y="391.81" width="8.85" height="0.18" fill="#00cc00"/>
<rect x="480.25" y="391.64" width="8.85" height="0.18" fill="#ff0000"/>
<path d="M480.25 393.75V391.64H489.1V393.75M480.25 391.99H489.1M480.25 391.81H489.1" fill="none" stroke="#000" stroke-opacity="0.9" stroke-width="0.5"/>
<rect x="491.67" y="391.99" width="8.85" height="1.76" fill="#0000ff"/>
<rect x="491.67" y="391.81" width="8.85" height="0.18" fill="#00cc00"/>
<rect x="491.67" y="391.64" width="8.85" height="0.18" fill="#ff0000"/>
<path d="M491.67 393.75V391.64H500.53V393.75M491.67 391.99H500.53M491.67 391.81H500.53" fill="none" stroke="#000" stroke-opacity="0.9" stroke-width="0.5"/>
<rect x="503.1" y="391.99" width="8.85" height="1.76" fill="#0000ff"/>
<rect x="503.1" y="391.81" width="8.85" height="0.18" fill="#00cc00"/>
<rect x="503.1" y="391.64" width="8.85" height="0.18" fill="#ff0000"/>
<path d="M503.1 393.75V391.64H511.95V393.75M503.1 391.99H511.95M503.1 391.81H511.95" fill="none" stroke="#000" stroke-opacity="0.9" stroke-width="0.5"/>
<rect x="514.32" y="392.21" width="9.25" height="1.74" fill="#0a0a38"/>
<rect x="525.95" y="391.77" width="8.85" height="1.98" fill="#0000ff"/>
<rect x="525.95" y="391.33" width="8.85" height="0.44" fill="#00cc00"/>
<rect x="525.95" y="390.67" width="8.85" height="0.66" fill="#ff0000"/>
<path d="M525.95 393.75V390.67H534.8V393.75M525.95 391.77H534.8M525.95 391.33H534.8" fill="none" stroke="#000" stroke-opacity="0.9" stroke-width="0.5"/>
<line x1="421.4" y1="245" x2="421.4" y2="393.75" stroke="#ffa52e" stroke-width="1.45" stroke-opacity="0.72"/>
<text x="303.7" y="396.86" text-anchor="end" font-size="7.0" fill="#262626" stroke="#262626" stroke-width="0.12">0</text>
<text x="303.7" y="374.83" text-anchor="end" font-size="7.0" fill="#262626" stroke="#262626" stroke-width="0.12">0.5</text>
<text x="303.7" y="352.81" text-anchor="end" font-size="7.0" fill="#262626" stroke="#262626" stroke-width="0.12">1</text>
<text x="303.7" y="330.78" text-anchor="end" font-size="7.0" fill="#262626" stroke="#262626" stroke-width="0.12">1.5</text>
<text x="303.7" y="308.76" text-anchor="end" font-size="7.0" fill="#262626" stroke="#262626" stroke-width="0.12">2</text>
<text x="303.7" y="286.73" text-anchor="end" font-size="7.0" fill="#262626" stroke="#262626" stroke-width="0.12">2.5</text>
<text x="303.7" y="264.71" text-anchor="end" font-size="7.0" fill="#262626" stroke="#262626" stroke-width="0.12">3</text>
<text transform="translate(315.7 396.6) rotate(-90)" text-anchor="end" font-size="6.7" fill="#262626" stroke="#262626" stroke-width="0.12">-0.9495</text>
<text transform="translate(327.12 396.6) rotate(-90)" text-anchor="end" font-size="6.7" fill="#262626" stroke="#262626" stroke-width="0.12">-0.8495</text>
<text transform="translate(338.55 396.6) rotate(-90)" text-anchor="end" font-size="6.7" fill="#262626" stroke="#262626" stroke-width="0.12">-0.7495</text>
<text transform="translate(349.97 396.6) rotate(-90)" text-anchor="end" font-size="6.7" fill="#262626" stroke="#262626" stroke-width="0.12">-0.6496</text>
<text transform="translate(361.4 396.6) rotate(-90)" text-anchor="end" font-size="6.7" fill="#262626" stroke="#262626" stroke-width="0.12">-0.5496</text>
<text transform="translate(372.82 396.6) rotate(-90)" text-anchor="end" font-size="6.7" fill="#262626" stroke="#262626" stroke-width="0.12">-0.4496</text>
<text transform="translate(384.25 396.6) rotate(-90)" text-anchor="end" font-size="6.7" fill="#262626" stroke="#262626" stroke-width="0.12">-0.3496</text>
<text transform="translate(395.67 396.6) rotate(-90)" text-anchor="end" font-size="6.7" fill="#262626" stroke="#262626" stroke-width="0.12">-0.2497</text>
<text transform="translate(407.1 396.6) rotate(-90)" text-anchor="end" font-size="6.7" fill="#262626" stroke="#262626" stroke-width="0.12">-0.1497</text>
<text transform="translate(418.52 396.6) rotate(-90)" text-anchor="end" font-size="6.7" fill="#262626" stroke="#262626" stroke-width="0.12">-0.04973</text>
<text transform="translate(429.95 396.6) rotate(-90)" text-anchor="end" font-size="6.7" fill="#262626" stroke="#262626" stroke-width="0.12">0.05025</text>
<text transform="translate(441.37 396.6) rotate(-90)" text-anchor="end" font-size="6.7" fill="#262626" stroke="#262626" stroke-width="0.12">0.1502</text>
<text transform="translate(452.8 396.6) rotate(-90)" text-anchor="end" font-size="6.7" fill="#262626" stroke="#262626" stroke-width="0.12">0.2502</text>
<text transform="translate(464.22 396.6) rotate(-90)" text-anchor="end" font-size="6.7" fill="#262626" stroke="#262626" stroke-width="0.12">0.3502</text>
<text transform="translate(475.65 396.6) rotate(-90)" text-anchor="end" font-size="6.7" fill="#262626" stroke="#262626" stroke-width="0.12">0.4501</text>
<text transform="translate(487.07 396.6) rotate(-90)" text-anchor="end" font-size="6.7" fill="#262626" stroke="#262626" stroke-width="0.12">0.5501</text>
<text transform="translate(498.5 396.6) rotate(-90)" text-anchor="end" font-size="6.7" fill="#262626" stroke="#262626" stroke-width="0.12">0.6501</text>
<text transform="translate(509.92 396.6) rotate(-90)" text-anchor="end" font-size="6.7" fill="#262626" stroke="#262626" stroke-width="0.12">0.7501</text>
<text transform="translate(521.35 396.6) rotate(-90)" text-anchor="end" font-size="6.7" fill="#262626" stroke="#262626" stroke-width="0.12">0.85</text>
<text transform="translate(532.77 396.6) rotate(-90)" text-anchor="end" font-size="6.7" fill="#262626" stroke="#262626" stroke-width="0.12">0.95</text>
<text x="308.2" y="243.2" font-size="7.5" fill="#262626"><tspan fill="#777">×</tspan>10<tspan dy="-2.9" font-size="5.1">4</tspan></text>
<text x="421.8" y="241.9" text-anchor="middle" font-size="8.45" font-weight="bold" fill="#111" stroke="#111" stroke-width="0.14">Error Histogram with 20 Bins</text>
<text x="422" y="430.2" text-anchor="middle" font-size="8.45" font-weight="bold" fill="#111" stroke="#111" stroke-width="0.14">Errors = Targets - Outputs</text>
<text transform="translate(289.4 319.15) rotate(-90)" text-anchor="middle" font-size="8.2" font-weight="bold" fill="#111" stroke="#111" stroke-width="0.14">Instances</text>
<rect x="474.6" y="250.1" width="56.3" height="35.4" fill="#fff" stroke="#808080" stroke-width="0.7"/>
<rect x="476.9" y="252.45" width="21.3" height="6.1" fill="#0000ff" stroke="#000" stroke-opacity="0.4" stroke-width="0.5"/>
<text transform="translate(499.6 257.95) scale(0.94 1)" font-size="6.8" fill="#000" stroke="#000" stroke-width="0.1">Training</text>
<rect x="476.9" y="260.8" width="21.3" height="6.1" fill="#00cc00" stroke="#000" stroke-opacity="0.4" stroke-width="0.5"/>
<text transform="translate(499.6 266.3) scale(0.94 1)" font-size="6.8" fill="#000" stroke="#000" stroke-width="0.1">Validation</text>
<rect x="476.9" y="269.15" width="21.3" height="6.1" fill="#ff0000" stroke="#000" stroke-opacity="0.4" stroke-width="0.5"/>
<text transform="translate(499.6 274.65) scale(0.94 1)" font-size="6.8" fill="#000" stroke="#000" stroke-width="0.1">Test</text>
<line x1="476.9" y1="280.55" x2="498.2" y2="280.55" stroke="#ffa52e" stroke-width="1.25"/>
<text transform="translate(499.6 283) scale(0.94 1)" font-size="6.8" fill="#000" stroke="#000" stroke-width="0.1">Zero Error</text>
<text x="406.9" y="451" text-anchor="middle" font-family="'Liberation Serif', serif" font-size="9.3" font-weight="bold" fill="#000" stroke="#000" stroke-width="0.18">d.</text>
</g>
</svg>
</body></html>
